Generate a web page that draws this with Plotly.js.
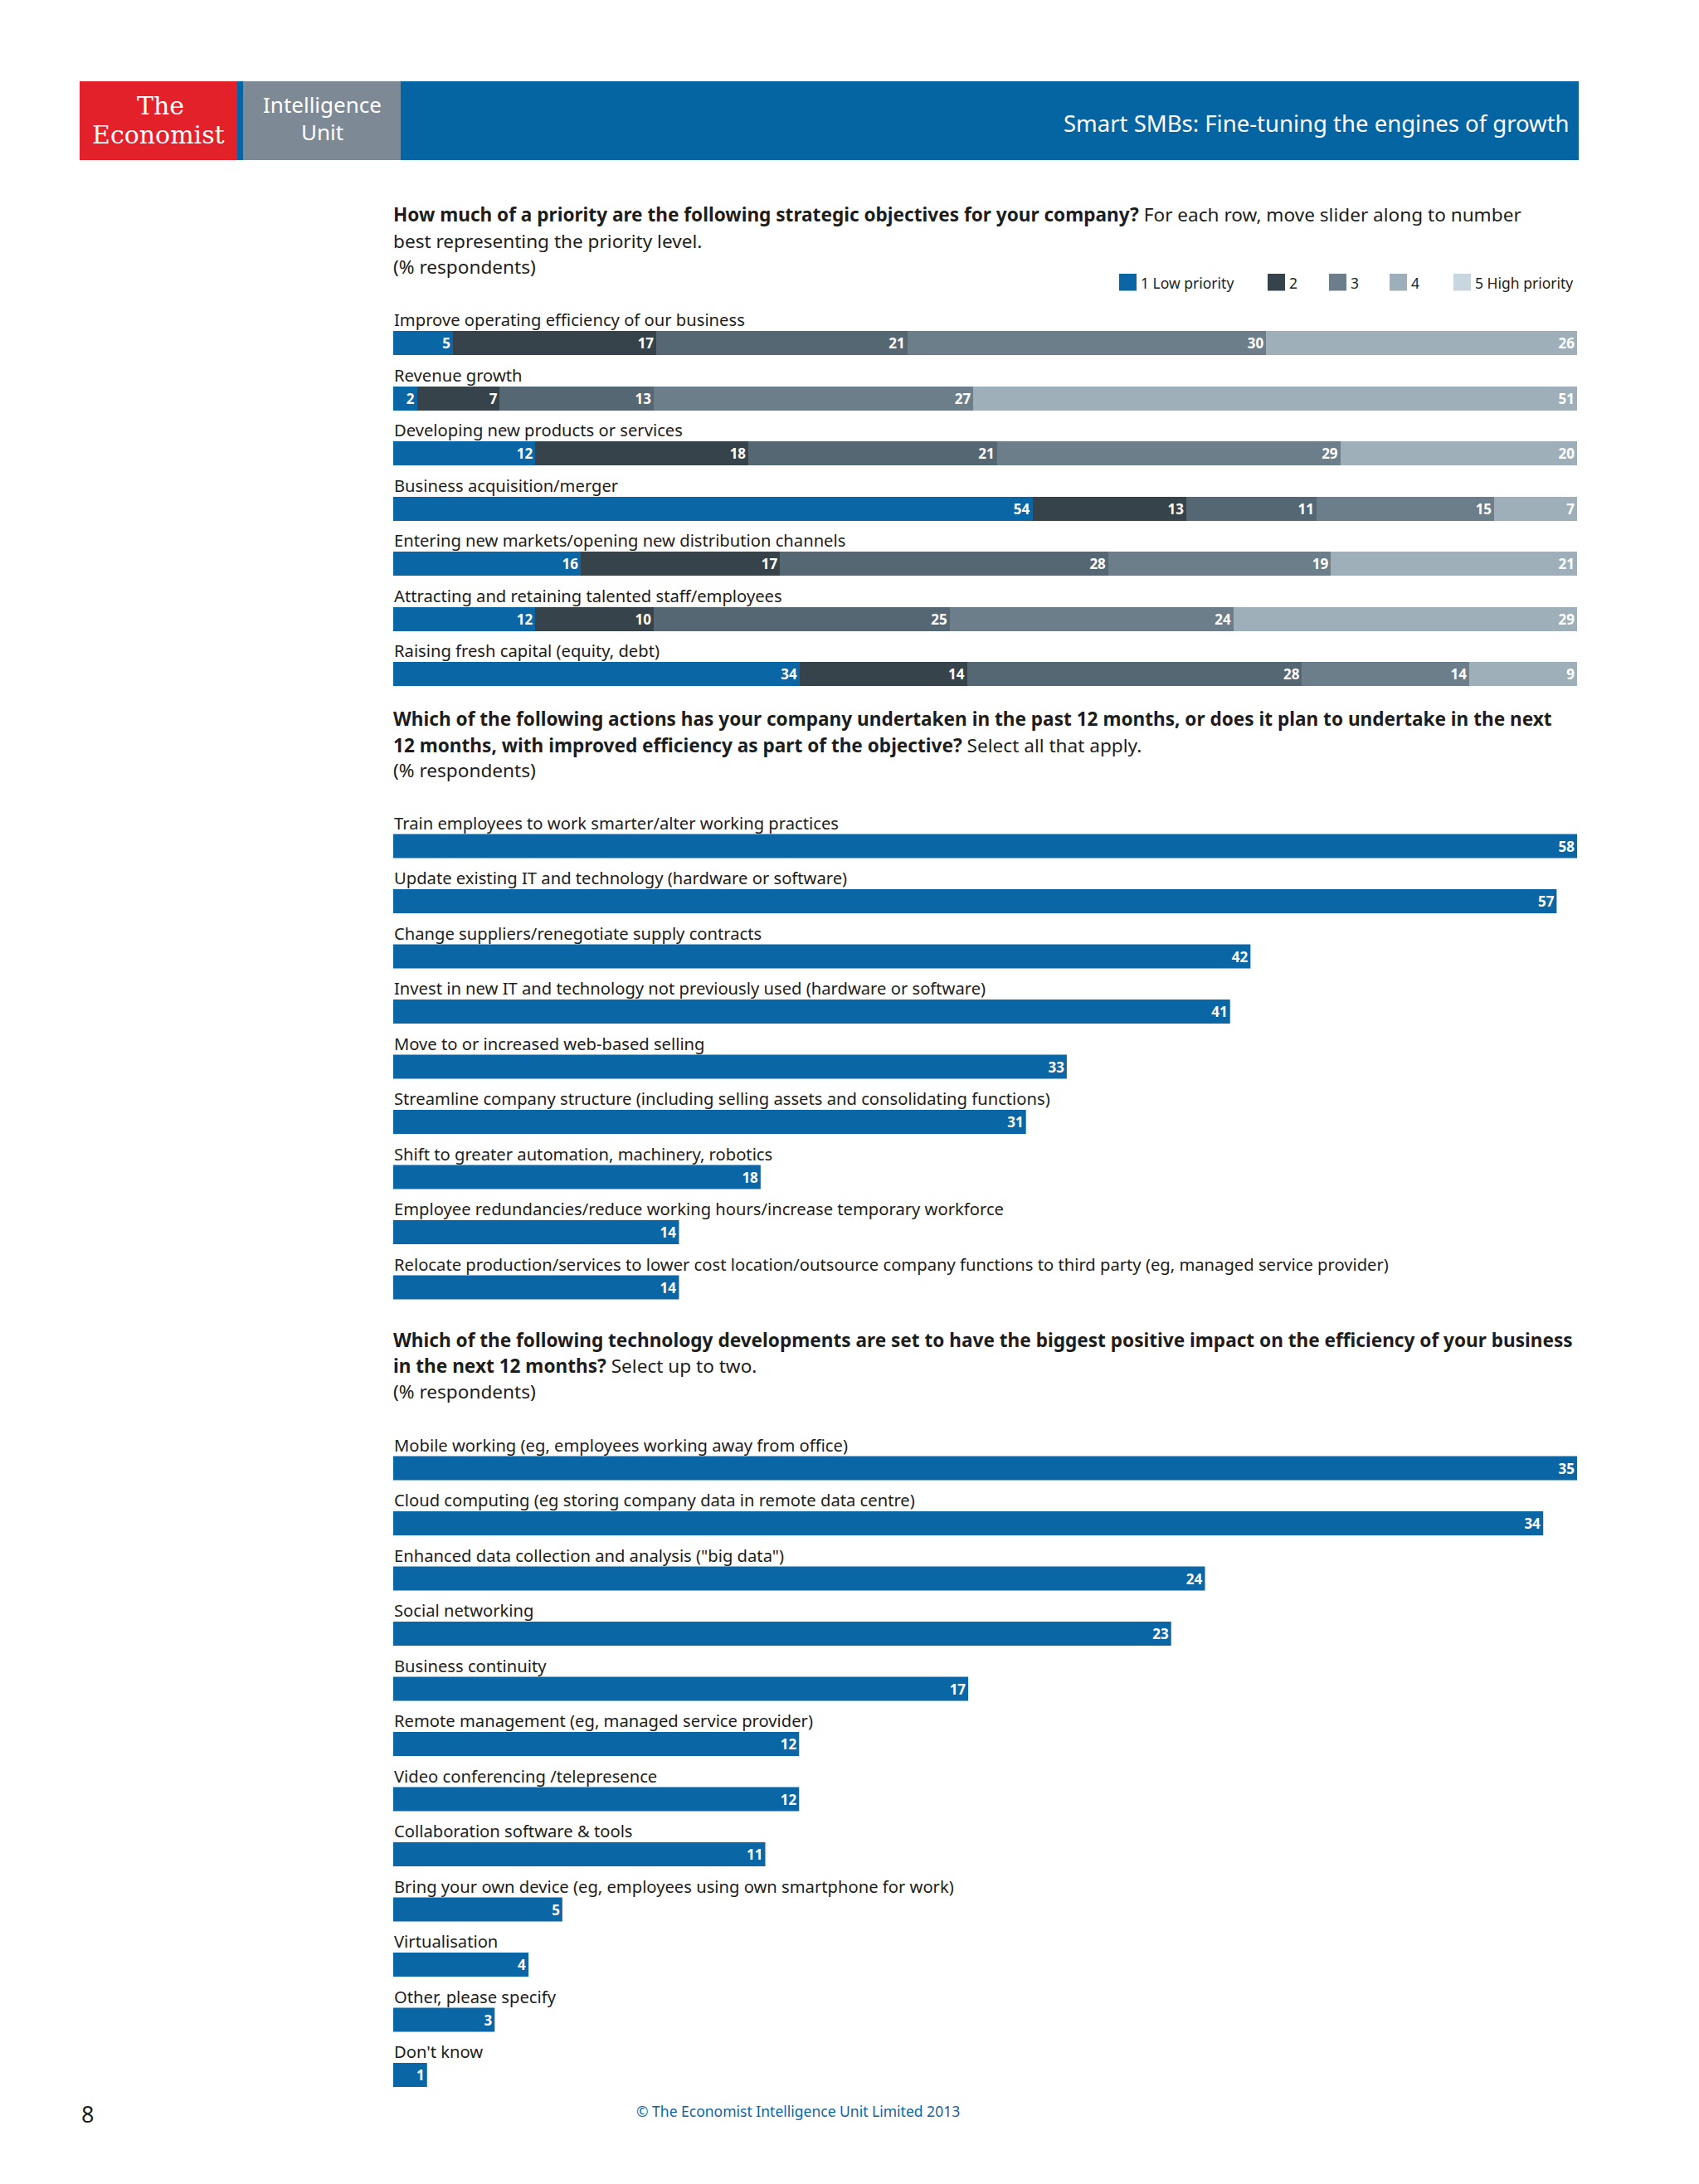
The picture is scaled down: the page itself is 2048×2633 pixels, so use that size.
<!DOCTYPE html>
<html><head><meta charset="utf-8">
<script src="https://cdn.plot.ly/plotly-3.0.1.min.js"></script>
<style>
html,body{margin:0;padding:0;background:#ffffff;}
#main,#sec1{position:absolute;left:0;top:0;width:2048px;height:2633px;}
</style>
</head><body>
<div id="main"></div><div id="sec1"></div>
<script>
// ---------------- DATA ----------------
const priorityLevels = ['1 Low priority', '2', '3', '4', '5 High priority'];
const objectives = [
  'Improve operating efficiency of our business',
  'Revenue growth',
  'Developing new products or services',
  'Business acquisition/merger',
  'Entering new markets/opening new distribution channels',
  'Attracting and retaining talented staff/employees',
  'Raising fresh capital (equity, debt)'
];
const priority1 = [5, 2, 12, 54, 16, 12, 34];
const priority2 = [17, 7, 18, 13, 17, 10, 14];
const priority3 = [21, 13, 21, 11, 28, 25, 28];
const priority4 = [30, 27, 29, 15, 19, 24, 14];
const priority5 = [26, 51, 20, 7, 21, 29, 9];

const actions = [
  'Train employees to work smarter/alter working practices',
  'Update existing IT and technology (hardware or software)',
  'Change suppliers/renegotiate supply contracts',
  'Invest in new IT and technology not previously used (hardware or software)',
  'Move to or increased web-based selling',
  'Streamline company structure (including selling assets and consolidating functions)',
  'Shift to greater automation, machinery, robotics',
  'Employee redundancies/reduce working hours/increase temporary workforce',
  'Relocate production/services to lower cost location/outsource company functions to third party (eg, managed service provider)'
];
const actionValues = [58, 57, 42, 41, 33, 31, 18, 14, 14];

const techs = [
  'Mobile working (eg, employees working away from office)',
  'Cloud computing (eg storing company data in remote data centre)',
  'Enhanced data collection and analysis ("big data")',
  'Social networking',
  'Business continuity',
  'Remote management (eg, managed service provider)',
  'Video conferencing /telepresence',
  'Collaboration software & tools',
  'Bring your own device (eg, employees using own smartphone for work)',
  'Virtualisation',
  'Other, please specify',
  "Don't know"
];
const techValues = [35, 34, 24, 23, 17, 12, 12, 11, 5, 4, 3, 1];

const q1Lines = ['<b>How much of a priority are the following strategic objectives for your company?</b> For each row, move slider along to number',
                 'best representing the priority level.', '(% respondents)'];
const q2Lines = ['<b>Which of the following actions has your company undertaken in the past 12 months, or does it plan to undertake in the next</b>',
                 '<b>12 months, with improved efficiency as part of the objective?</b> Select all that apply.', '(% respondents)'];
const q3Lines = ['<b>Which of the following technology developments are set to have the biggest positive impact on the efficiency of your business</b>',
                 '<b>in the next 12 months?</b> Select up to two.', '(% respondents)'];
const headerTitle = 'Smart SMBs: Fine-tuning the engines of growth';
const footerText = '© The Economist Intelligence Unit Limited 2013';
const pageNumber = '8';

// ---------------- STYLE ----------------
const W = 2048, H = 2633;
const FONT = 'Noto Sans, Open Sans, sans-serif';
const SERIF = 'DejaVu Serif, Liberation Serif, serif';
const TEXT = '#1d1d1b';
const BLUE = '#0b66a5';
const barColors = ['#0b66a5', '#37434b', '#556773', '#6b7e8a', '#9eafba'];
const legendColors = ['#0b66a5', '#37434b', '#6b7e8a', '#9eafba', '#c8d7df'];
const ROW = 66.5, BAR_H = 29;
const PLOT_L = 474, PLOT_R = 1901;
const LABEL_SIZE = 20.2, VALUE_SIZE = 18.5, Q_SIZE = 22.6;

function px(x) { return x / W; }
function py(y) { return 1 - y / H; }
function yAxis(c0, n) {
  const pTop = c0 - 45, pBottom = c0 + (n - 1) * ROW + 30;
  return { domain: [1 - pBottom / H, 1 - pTop / H], range: [(pBottom - c0) / ROW, (pTop - c0) / ROW],
           visible: false, fixedrange: true };
}
function txt(x, y, text, size, opts) {
  return Object.assign({ xref: 'paper', yref: 'paper', x: px(x), y: py(y), text: text, showarrow: false,
    xanchor: 'left', yanchor: 'middle', font: { family: FONT, size: size, color: TEXT } }, opts || {});
}
function labelAnns(cats, yref) {
  return cats.map((t, i) => ({ xref: 'paper', yref: yref, x: px(PLOT_L - 1), y: i, yshift: 28.5, text: t,
    showarrow: false, xanchor: 'left', yanchor: 'middle', font: { family: FONT, size: LABEL_SIZE, color: TEXT } }));
}
function idx(a) { return a.map((_, i) => i); }
const valueFont = { family: FONT, size: VALUE_SIZE, color: '#ffffff', weight: 700 };

// ---------------- MAIN FIGURE ----------------
const S2 = 1020, S3 = 1770;
const mainTraces = [
  { type: 'bar', orientation: 'h', x: actionValues, y: idx(actionValues), xaxis: 'x', yaxis: 'y',
    width: BAR_H / ROW, marker: { color: BLUE }, text: actionValues.map(String), textposition: 'inside',
    insidetextanchor: 'end', textangle: 0, textfont: valueFont, hoverinfo: 'skip' },
  { type: 'bar', orientation: 'h', x: techValues, y: idx(techValues), xaxis: 'x2', yaxis: 'y2',
    width: BAR_H / ROW, marker: { color: BLUE }, text: techValues.map(String), textposition: 'inside',
    insidetextanchor: 'end', textangle: 0, textfont: valueFont, hoverinfo: 'skip' }
];

const headerShapes = [
  { type: 'rect', xref: 'paper', yref: 'paper', x0: px(96), x1: px(1903), y0: py(193), y1: py(98), fillcolor: '#0565a3', line: { width: 0 } },
  { type: 'rect', xref: 'paper', yref: 'paper', x0: px(96), x1: px(286), y0: py(193), y1: py(98), fillcolor: '#e3212b', line: { width: 0 } },
  { type: 'rect', xref: 'paper', yref: 'paper', x0: px(293), x1: px(483), y0: py(193), y1: py(98), fillcolor: '#7d8a96', line: { width: 0 } }
];

const qAnns = [];
[[q1Lines, 259], [q2Lines, 867], [q3Lines, 1615]].forEach(([lines, y0]) => {
  const ys = [y0, y0 + 31, y0 + 62];
  lines.forEach((l, i) => qAnns.push(txt(472, ys[i], l, Q_SIZE)));
});

const mainAnns = [
  txt(193, 127, 'The', 30, { xanchor: 'center', font: { family: SERIF, size: 30, color: '#ffffff' } }),
  txt(191, 162, 'Economist', 30, { xanchor: 'center', font: { family: SERIF, size: 30, color: '#ffffff' } }),
  txt(388, 126, 'Intelligence', 26, { xanchor: 'center', font: { family: FONT, size: 26, color: '#ffffff' } }),
  txt(388, 159, 'Unit', 26, { xanchor: 'center', font: { family: FONT, size: 26, color: '#ffffff' } }),
  txt(1894, 148, headerTitle, 27.5, { xanchor: 'right', font: { family: FONT, size: 27.5, color: '#ffffff' } }),
  txt(96, 2548, pageNumber, 27, { font: { family: FONT, size: 27, color: TEXT } }),
  txt(962, 2545, footerText, 17.5, { xanchor: 'center', font: { family: FONT, size: 17.5, color: BLUE } })
].concat(qAnns, labelAnns(actions, 'y'), labelAnns(techs, 'y2'));

const mainLayout = {
  width: W, height: H, margin: { l: 0, r: 0, t: 0, b: 0 },
  paper_bgcolor: '#ffffff', plot_bgcolor: 'rgba(0,0,0,0)', showlegend: false, barmode: 'group',
  xaxis: { domain: [px(PLOT_L), px(PLOT_R)], range: [0, Math.max(...actionValues)], visible: false, anchor: 'y', fixedrange: true },
  yaxis: Object.assign(yAxis(S2, actionValues.length), { anchor: 'x' }),
  xaxis2: { domain: [px(PLOT_L), px(PLOT_R)], range: [0, Math.max(...techValues)], visible: false, anchor: 'y2', fixedrange: true },
  yaxis2: Object.assign(yAxis(S3, techValues.length), { anchor: 'x2' }),
  shapes: headerShapes, annotations: mainAnns
};
Plotly.newPlot('main', mainTraces, mainLayout, { staticPlot: true, displayModeBar: false });

// ---------------- SECTION 1 (stacked, normalised to 100%) ----------------
const S1 = 413.5;
const priorities = [priority1, priority2, priority3, priority4, priority5];
const secTraces = priorities.map((vals, k) => ({
  type: 'bar', orientation: 'h', name: priorityLevels[k], x: vals, y: idx(vals),
  marker: { color: barColors[k], line: { width: 0 } }, text: vals.map(String), textposition: 'inside',
  insidetextanchor: 'end', textangle: 0, textfont: valueFont, hoverinfo: 'skip'
}));
const legX = [1349, 1528, 1602, 1675, 1752];
const legendShapes = priorityLevels.map((_, k) => ({ type: 'rect', xref: 'paper', yref: 'paper',
  x0: px(legX[k]), x1: px(legX[k] + 21), y0: py(350.5), y1: py(330), fillcolor: legendColors[k], line: { width: 0 } }));
const legendAnns = priorityLevels.map((name, k) => txt(legX[k] + 24, 341, name, 17.5, { font: { family: FONT, size: 17.5, color: TEXT } }));

const secLayout = {
  width: W, height: H, margin: { l: 0, r: 0, t: 0, b: 0 },
  paper_bgcolor: 'rgba(0,0,0,0)', plot_bgcolor: 'rgba(0,0,0,0)', showlegend: false,
  barmode: 'stack', barnorm: 'percent', bargap: 1 - BAR_H / ROW,
  xaxis: { domain: [px(PLOT_L), px(PLOT_R)], range: [0, 100], visible: false, fixedrange: true },
  yaxis: yAxis(S1, objectives.length),
  shapes: legendShapes,
  annotations: labelAnns(objectives, 'y').concat(legendAnns)
};
Plotly.newPlot('sec1', secTraces, secLayout, { staticPlot: true, displayModeBar: false });
</script>
</body></html>
